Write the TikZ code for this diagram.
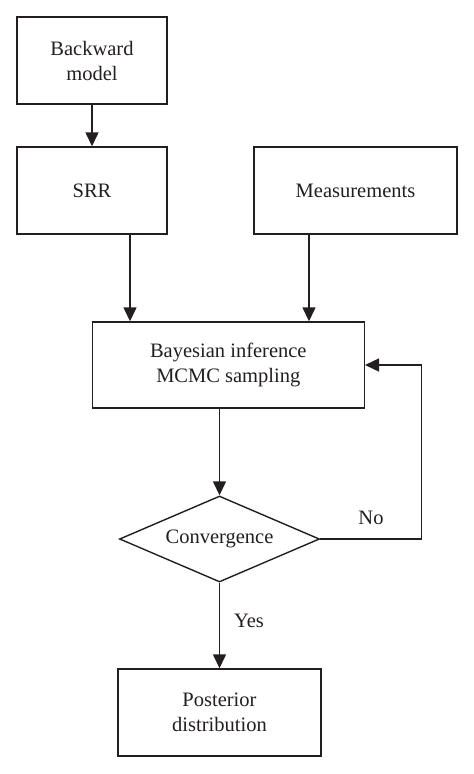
\documentclass[tikz,border=0pt]{standalone}
\usepackage{fontspec}
\setmainfont{Liberation Serif}
\usetikzlibrary{arrows.meta,shapes.geometric}
\definecolor{ink}{HTML}{231F20}
\begin{document}
\begin{tikzpicture}[x=1pt,y=-1pt,
  box/.style={draw=ink,line width=1.4pt,minimum width=#1,minimum height=87pt,inner sep=0pt,align=center,text=ink,font=\fontsize{20.5}{25}\selectfont},
  dec/.style={draw=ink,line width=1.4pt,shape=diamond,aspect=2.33,minimum width=200pt,minimum height=86pt,inner sep=0pt,text=ink,font=\fontsize{20.5}{25}\selectfont},
  arr/.style={draw=ink,line width=1.4pt,-{Triangle[length=14pt,width=13pt]}},
  lbl/.style={text=ink,font=\fontsize{20.5}{25}\selectfont,inner sep=0pt}]
\useasboundingbox (0,0) rectangle (474,774);
\node[box=150pt] (bm) at (92,60.5) {Backward\\model};
\node[box=150pt] (srr) at (92,190.5) {SRR};
\node[box=203pt] (meas) at (355.5,190.5) {Measurements};
\node[box=272pt,minimum height=86pt] (bay) at (228.3,365) {Bayesian inference\\MCMC sampling};
\node[dec] (conv) at (219.5,539) {Convergence};
\node[box=203pt] (post) at (219.5,712.5) {Posterior\\distribution};
\coordinate (xa) at (130,0);
\coordinate (xb) at (309,0);
\coordinate (fb) at (421.7,539);
\draw[arr] (bm.south) -- (srr.north);
\draw[arr] (xa |- srr.south) -- (xa |- bay.north);
\draw[arr] (xb |- meas.south) -- (xb |- bay.north);
\draw[arr] (conv.north |- bay.south) -- (conv.north);
\draw[arr] (conv.east) -- (fb) |- (bay.east);
\draw[arr] (conv.south) -- (post.north);
\node[lbl] (no) at (371,518) {No};
\node[lbl] (yes) at (249,621) {Yes};
\end{tikzpicture}
\end{document}
